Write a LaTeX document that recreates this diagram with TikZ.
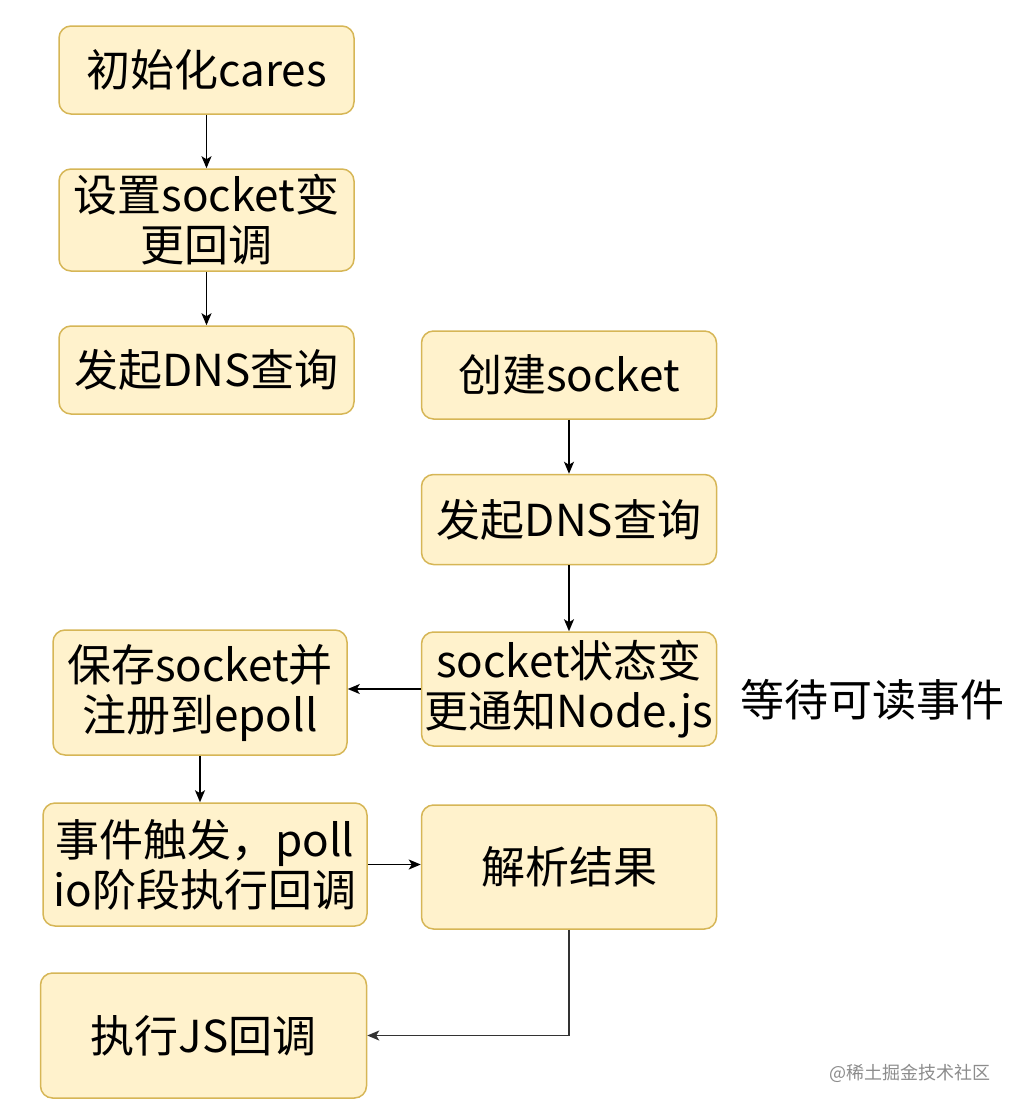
\documentclass[tikz,border=0pt]{standalone}
\usepackage{fontspec}
\setmainfont{Noto Sans CJK SC}
\usetikzlibrary{positioning,calc}
\usetikzlibrary{arrows.meta}

\definecolor{boxfill}{HTML}{FFF2CC}
\definecolor{boxline}{HTML}{D6B656}

\begin{document}
\begin{tikzpicture}[>={Stealth[length=12pt, width=10pt, inset=3pt]}, x = 1pt, y = -1pt,
    box/.style = {draw = boxline, fill = boxfill, line width = 1.5pt, rounded corners = 12pt,
        minimum width = 295pt, align = center, inner sep = 0pt,
        font = \fontsize{44}{50}\selectfont},
    link/.style = {->, line width = 1.6pt}]
    \useasboundingbox (0, 0) rectangle (1020, 1112);

    % left column
    \node (init)   [box, minimum height = 88pt]  at (206.5, 70)  {初始化cares};
    \node (setcb)  [box, minimum height = 102pt] at (206.5, 220) {设置socket变\\更回调};
    \node (query1) [box, minimum height = 88pt]  at (206.5, 370) {发起DNS查询};

    % right column
    \node (create) [box, minimum height = 88pt]  at (569, 375)   {创建socket};
    \node (query2) [box, minimum height = 90pt]  at (569, 519.5) {发起DNS查询};
    \node (notify) [box, minimum height = 114pt] at (569, 689)   {socket状态变\\更通知Node.js};
    \node (parse)  [box, minimum height = 124pt] at (569, 867)   {解析结果};

    % bottom left
    \node (save)   [box, minimum width = 294pt, minimum height = 125pt] at (200, 692.5) {保存socket并\\注册到epoll};
    \node (event)  [box, minimum width = 324pt, minimum height = 123pt] at (205, 864.5) {事件触发，poll\\io阶段执行回调};
    \node (jscb)   [box, minimum width = 326pt, minimum height = 125pt] at (203.5, 1035.5) {执行JS回调};

    \node (wait) [font = \fontsize{44}{50}\selectfont] at (872, 700) {等待可读事件};
    \node (mark) [font = \fontsize{18}{20}\selectfont, text = black!45] at (910, 1073) {@稀土掘金技术社区};

    \draw [link] (init)  --  (setcb);
    \draw [link] (setcb)  --  (query1);
    \draw [link] (create)  --  (query2);
    \draw [link] (query2)  --  (notify);
    \draw [link] (notify.west)  --  (notify.west -| save.east);
    \draw [link] (save.south)  --  (save.south |- event.north);
    \draw [link] (event.east)  --  (event.east -| parse.west);
    \draw [link, black!80] (parse.south)  |-  (jscb.east);

\end{tikzpicture}
\end{document}
